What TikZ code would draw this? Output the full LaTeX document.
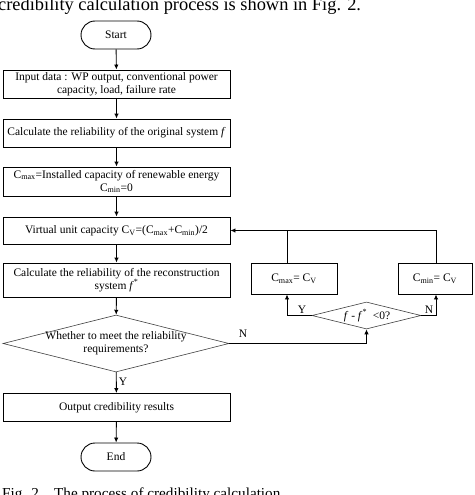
\documentclass[tikz,border=0pt]{standalone}
\usepackage{fontspec}
\setmainfont{Liberation Serif}
\usetikzlibrary{shapes.geometric,arrows.meta}
\begin{document}
\begin{tikzpicture}[x=1pt,y=-1pt,
  fnt/.style={font=\fontsize{11.5}{13}\selectfont},
  box/.style={fnt,draw,line width=0.9pt,rectangle,minimum width=227pt,inner sep=1pt,align=center},
  term/.style={fnt,draw,line width=0.9pt,rectangle,rounded corners=14pt,minimum width=70pt,minimum height=28pt},
  dia/.style={draw=black!75,line width=0.6pt,diamond,inner sep=0pt},
  txt/.style={fnt,align=center},
  lbl/.style={fnt,inner sep=0pt},
  arr/.style={line width=0.9pt,-{Latex[length=5pt,width=4.5pt]}},
  ln/.style={line width=0.9pt}
]
\useasboundingbox (0,0) rectangle (474,495);
\node[anchor=base west,inner sep=0pt,font=\fontsize{18.4}{20}\selectfont] (toptxt) at (-2,11) {credibility calculation process is shown in Fig. 2.};
\node[term] (start) at (116,35) {Start};
\node[box,minimum height=28pt] (input) at (116.5,84) {Input data : WP output, conventional power\\capacity, load, failure rate};
\node[box,minimum height=28pt] (orig) at (116.5,133) {Calculate the reliability of the original system \textit{f}};
\node[box,minimum height=29pt] (cmax) at (116.5,181.5) {C\textsubscript{max}=Installed capacity of renewable energy\\C\textsubscript{min}=0};
\node[box,minimum height=27pt] (virt) at (116.5,230.5) {Virtual unit capacity C\textsubscript{V}=(C\textsubscript{max}+C\textsubscript{min})/2};
\node[box,minimum height=34pt] (recon) at (116.5,280) {Calculate the reliability of the reconstruction\\system \textit{f}\textsuperscript{*}};
\node[dia,minimum width=226pt,minimum height=57pt] (dec) at (116,343.5) {};
\node[txt] (dectxt) at (116,343.5) {Whether to meet the reliability\\requirements?};
\node[box,minimum height=28pt] (out) at (116.5,407.5) {Output credibility results};
\node[term] (end) at (116,457) {End};
\node[box,minimum width=86pt,minimum height=31pt] (cmaxv) at (294,278.5) {C\textsubscript{max}= C\textsubscript{V}};
\node[box,minimum width=74pt,minimum height=31pt] (cminv) at (435,278.5) {C\textsubscript{min}= C\textsubscript{V}};
\node[dia,minimum width=109pt,minimum height=27pt] (sd) at (366.5,315.5) {};
\node[txt] (sdtxt) at (367,315.5) {\textit{f} - \textit{f}\textsuperscript{*}\ \ {<}0?};
\node[anchor=base west,inner sep=0pt,font=\fontsize{15.2}{17}\selectfont] (cap) at (2,498) {Fig. 2\quad The process of credibility calculation};
\draw[arr] (start) -- (input);
\draw[arr] (input) -- (orig);
\draw[arr] (orig) -- (cmax);
\draw[arr] (cmax) -- (virt);
\draw[arr] (virt) -- (recon);
\draw[arr] (recon) -- (dec);
\draw[arr] (dec) -- (out);
\draw[arr] (out) -- (end);
\draw[arr] (dec.east) -| (sd.south);
\draw[arr] (sd.west) -| ([xshift=-7pt]cmaxv.south);
\draw[arr] (sd.east) -| ([xshift=1pt]cminv.south);
\draw[arr] ([xshift=1pt]cminv.north) |- (virt.east);
\draw[ln] ([xshift=-7pt]cmaxv.north) -- ([xshift=-7pt]cmaxv.north |- virt.east);
\node[lbl] (ly1) at (123,382) {Y};
\node[lbl] (ln1) at (243,334) {N};
\node[lbl] (ly2) at (302,310) {Y};
\node[lbl] (ln2) at (429,310) {N};
\end{tikzpicture}
\end{document}
